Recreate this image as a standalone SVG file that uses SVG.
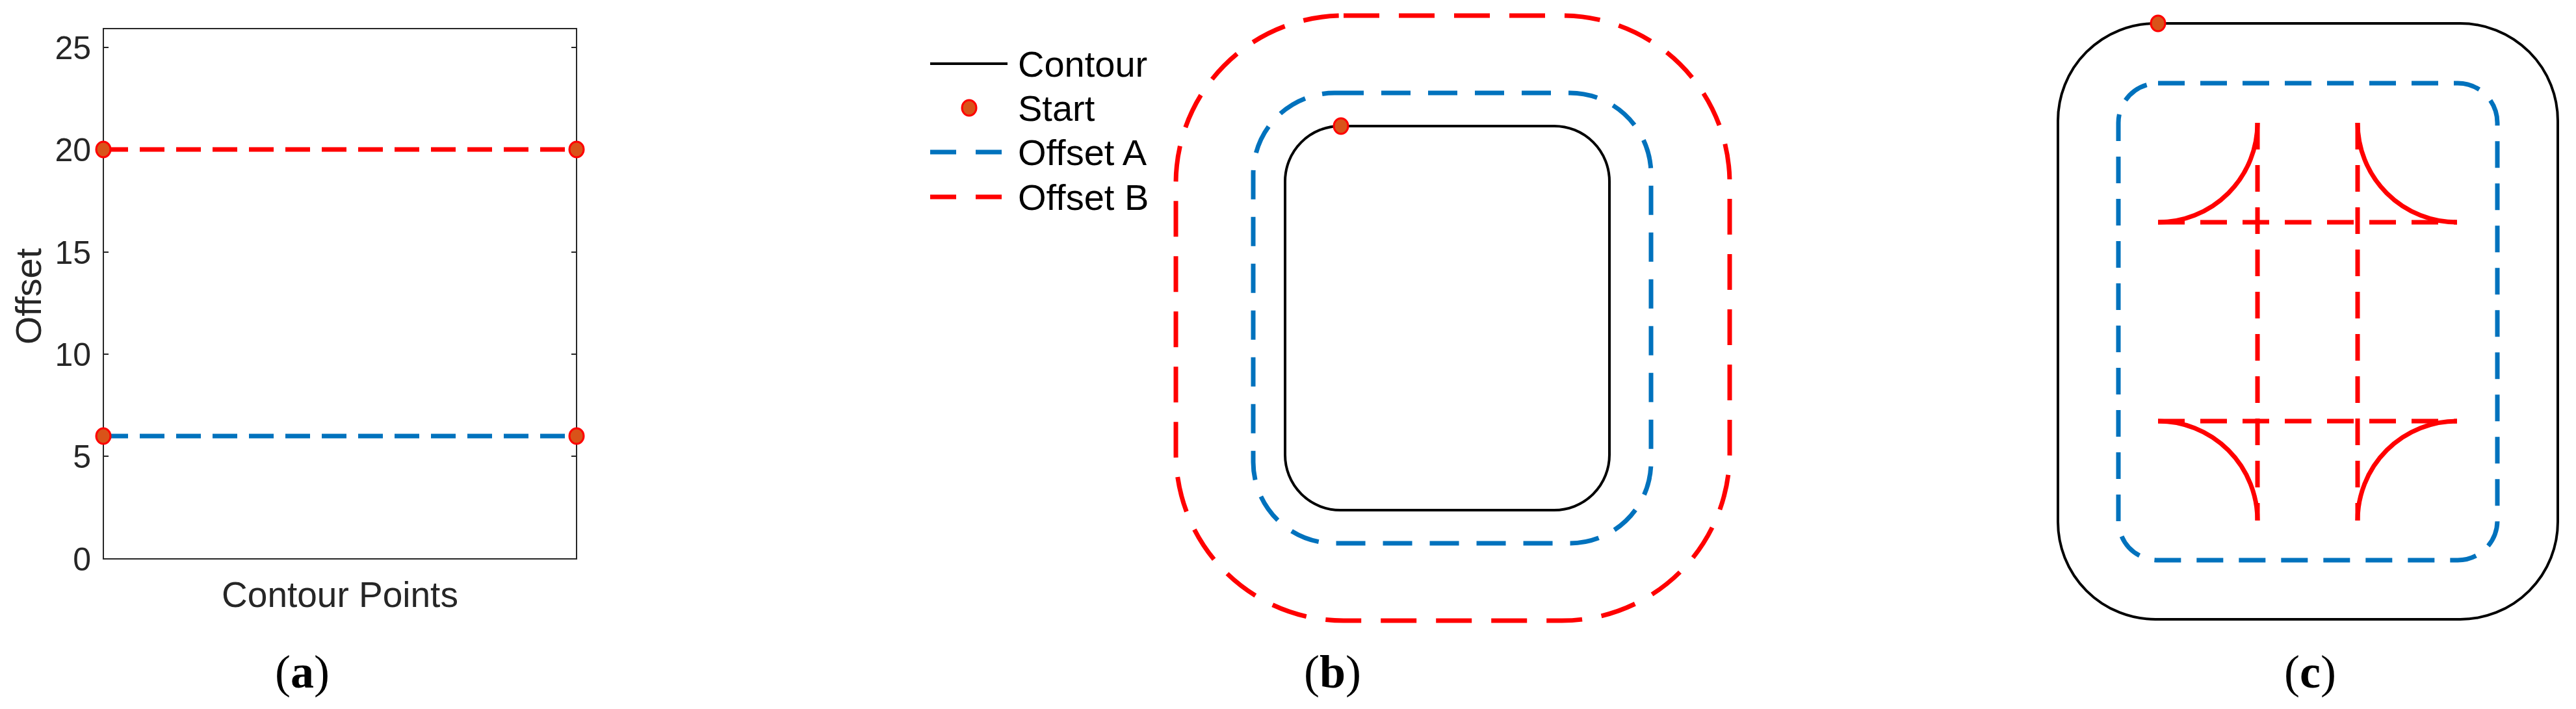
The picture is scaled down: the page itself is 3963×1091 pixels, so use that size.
<svg xmlns="http://www.w3.org/2000/svg" width="3963" height="1091" viewBox="0 0 3963 1091">
<style>
.t{font-family:"Liberation Sans",Arial,sans-serif;fill:#262626}
.cap{font-family:"Liberation Serif","Times New Roman",serif;font-size:72px;fill:#000;text-anchor:middle}
.dot{fill:#D95319;stroke:#FF0000;stroke-width:3}
.blue{fill:none;stroke:#0072BD;stroke-width:7}
.red{fill:none;stroke:#FF0000;stroke-width:7}
.blk{fill:none;stroke:#000;stroke-width:4}
</style>
<g id="panel-a">
<rect x="159" y="44" width="728" height="816" fill="none" stroke="#262626" stroke-width="2"/>
<g stroke="#262626" stroke-width="2">
<path d="M159 860h8M159 702h8M159 545h8M159 388h8M159 230h8M159 73h8M887 860h-8M887 702h-8M887 545h-8M887 388h-8M887 230h-8M887 73h-8"/>
</g>
<g class="t" font-size="50" text-anchor="end">
<text x="140" y="878">0</text><text x="140" y="720">5</text><text x="140" y="563">10</text><text x="140" y="406">15</text><text x="140" y="248">20</text><text x="140" y="91">25</text>
</g>
<text class="t" font-size="56" text-anchor="middle" transform="translate(63 456) rotate(-90)">Offset</text>
<text class="t" font-size="55" x="523" y="934" text-anchor="middle">Contour Points</text>
<line x1="159" y1="230" x2="887" y2="230" class="red" stroke-dasharray="38 18"/>
<line x1="159" y1="671" x2="887" y2="671" class="blue" stroke-dasharray="38 18"/>
<ellipse class="dot" cx="159" cy="230" rx="11" ry="12"/><ellipse class="dot" cx="887" cy="230" rx="11" ry="12"/>
<ellipse class="dot" cx="159" cy="671" rx="11" ry="12"/><ellipse class="dot" cx="887" cy="671" rx="11" ry="12"/>
<text class="cap" x="465" y="1058">(<tspan font-weight="bold">a</tspan>)</text>
</g>
<g id="legend">
<line x1="1431" y1="98" x2="1550" y2="98" stroke="#000" stroke-width="4"/>
<ellipse class="dot" cx="1491" cy="166" rx="11" ry="12"/>
<line x1="1431" y1="234" x2="1550" y2="234" class="blue" stroke-dasharray="40 30"/>
<line x1="1431" y1="303" x2="1550" y2="303" class="red" stroke-dasharray="40 30"/>
<g font-family="Liberation Sans,Arial,sans-serif" font-size="56" fill="#000">
<text x="1566" y="118">Contour</text><text x="1566" y="186">Start</text><text x="1566" y="254">Offset A</text><text x="1566" y="323">Offset B</text>
</g>
</g>
<g id="panel-b">
<rect x="1809" y="24" width="852" height="931" rx="258" ry="258" class="red" stroke-dasharray="55 30"/>
<rect x="1928" y="143" width="612" height="693" rx="125" ry="125" class="blue" stroke-dasharray="45 27"/>
<rect x="1977" y="194" width="499" height="591" rx="85" ry="85" class="blk"/>
<ellipse class="dot" cx="2063" cy="194" rx="11" ry="12"/>
<text class="cap" x="2050" y="1058">(<tspan font-weight="bold">b</tspan>)</text>
</g>
<g id="panel-c">
<rect x="3166" y="36" width="769" height="917" rx="150" ry="150" class="blk"/>
<rect x="3259" y="128" width="583" height="734" rx="61" ry="61" class="blue" stroke-dasharray="41 24"/>
<g class="red" stroke-dasharray="41 24">
<line x1="3320" y1="342" x2="3780" y2="342"/><line x1="3320" y1="648" x2="3780" y2="648"/>
<line x1="3473" y1="189" x2="3473" y2="801"/><line x1="3627" y1="189" x2="3627" y2="801"/>
</g>
<g class="red">
<path d="M3320 342A153 153 0 0 0 3473 189"/>
<path d="M3627 189A153 153 0 0 0 3780 342"/>
<path d="M3320 648A153 153 0 0 1 3473 801"/>
<path d="M3627 801A153 153 0 0 1 3780 648"/>
</g>
<ellipse class="dot" cx="3320" cy="36" rx="11" ry="12"/>
<text class="cap" x="3554" y="1058">(<tspan font-weight="bold">c</tspan>)</text>
</g>
</svg>
